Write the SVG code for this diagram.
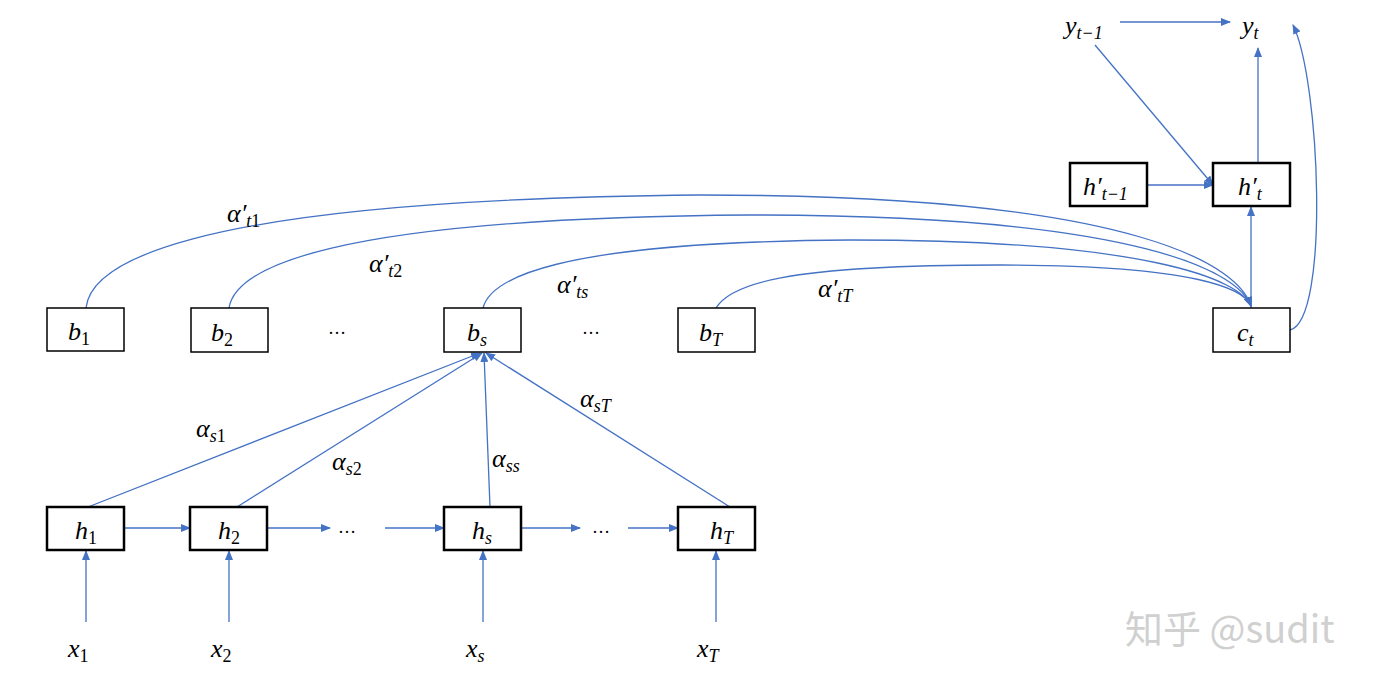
<svg xmlns="http://www.w3.org/2000/svg" width="1393" height="685" viewBox="0 0 1393 685">
<style>
.n{fill:#fff;stroke:#000;stroke-width:1.5}
.k{fill:#fff;stroke:#000;stroke-width:2.5}
.c{fill:none;stroke:#4472c4;stroke-width:1.3}
text{font-family:"Liberation Serif","DejaVu Serif",serif;font-style:italic;font-size:26px;fill:#000}
.s{font-size:18px;font-style:normal}
.si{font-size:18px}
.d{font-style:normal;font-size:18px}
</style>
<defs><marker id="a" markerWidth="10" markerHeight="8" refX="9" refY="4" orient="auto" markerUnits="userSpaceOnUse"><path d="M0,0L10,4L0,8z" fill="#4472c4"/></marker></defs>
<rect width="1393" height="685" fill="#fff"/>
<g id="connectors">
<path class="c" marker-end="url(#a)" d="M86,308C90,270 160,200 700,195C1150,195 1240,270 1251,306"/>
<path class="c" marker-end="url(#a)" d="M229,308C235,270 320,218 750,215C1150,215 1240,275 1251,306"/>
<path class="c" marker-end="url(#a)" d="M483,308C490,280 550,242 850,240C1150,240 1240,280 1251,306"/>
<path class="c" marker-end="url(#a)" d="M716,308C730,285 780,265 1000,265C1200,265 1245,290 1251,306"/>
<path class="c" marker-end="url(#a)" d="M1290,330C1330,320 1320,80 1293,25"/>
<path class="c" marker-end="url(#a)" d="M1120,22L1230,22"/>
<path class="c" marker-end="url(#a)" d="M1258,163L1258,48"/>
<path class="c" marker-end="url(#a)" d="M1095,45L1213,185"/>
<path class="c" marker-end="url(#a)" d="M1147,185L1213,185"/>
<path class="c" marker-end="url(#a)" d="M1251,308L1251,207"/>
<path class="c" marker-end="url(#a)" d="M124,528L190,528"/>
<path class="c" marker-end="url(#a)" d="M267,528L330,528"/>
<path class="c" marker-end="url(#a)" d="M385,528L444,528"/>
<path class="c" marker-end="url(#a)" d="M521,528L580,528"/>
<path class="c" marker-end="url(#a)" d="M628,528L678,528"/>
<path class="c" marker-end="url(#a)" d="M86,622L86,551"/>
<path class="c" marker-end="url(#a)" d="M229,622L229,551"/>
<path class="c" marker-end="url(#a)" d="M483,622L483,551"/>
<path class="c" marker-end="url(#a)" d="M716,622L716,551"/>
<path class="c" marker-end="url(#a)" d="M88,507L480,353"/>
<path class="c" marker-end="url(#a)" d="M237,507L482,353"/>
<path class="c" marker-end="url(#a)" d="M490,507L484,353"/>
<path class="c" marker-end="url(#a)" d="M730,507L486,353"/>
</g>
<g id="b1"><rect class="n" x="47" y="308" width="77" height="43"/><text x="68" y="340">b<tspan class="s" dy="5">1</tspan></text></g>
<g id="b2"><rect class="n" x="191" y="308" width="77" height="44"/><text x="211" y="341">b<tspan class="s" dy="5">2</tspan></text></g>
<g id="bs"><rect class="n" x="444" y="308" width="77" height="44"/><text x="467" y="341">b<tspan class="si" dy="5">s</tspan></text></g>
<g id="bT"><rect class="n" x="678" y="308" width="77" height="44"/><text x="699" y="341">b<tspan class="si" dy="5">T</tspan></text></g>
<g id="ct"><rect class="n" x="1213" y="308" width="77" height="44"/><text x="1237" y="341">c<tspan class="si" dy="5">t</tspan></text></g>
<g id="h1"><rect class="k" x="47" y="507" width="77" height="43"/><text x="75" y="539">h<tspan class="s" dy="5">1</tspan></text></g>
<g id="h2"><rect class="k" x="190" y="507" width="77" height="43"/><text x="218" y="539">h<tspan class="s" dy="5">2</tspan></text></g>
<g id="hs"><rect class="k" x="444" y="507" width="77" height="43"/><text x="472" y="539">h<tspan class="si" dy="5">s</tspan></text></g>
<g id="hT"><rect class="k" x="678" y="507" width="77" height="43"/><text x="710" y="539">h<tspan class="si" dy="5">T</tspan></text></g>
<g id="hpt1"><rect class="k" x="1070" y="163" width="77" height="43"/><text x="1083" y="195">h′<tspan class="si" dy="5">t−1</tspan></text></g>
<g id="hpt"><rect class="k" x="1213" y="163" width="77" height="43"/><text x="1238" y="195">h′<tspan class="si" dy="5">t</tspan></text></g>
<g id="labels">
<text x="1065" y="34">y<tspan class="si" dy="5">t−1</tspan></text>
<text x="1242" y="34">y<tspan class="si" dy="5">t</tspan></text>
<text x="68" y="657">x<tspan class="s" dy="5">1</tspan></text>
<text x="211" y="657">x<tspan class="s" dy="5">2</tspan></text>
<text x="466" y="657">x<tspan class="si" dy="5">s</tspan></text>
<text x="697" y="657">x<tspan class="si" dy="5">T</tspan></text>
<text x="227" y="222">α′<tspan class="si" dy="5">t</tspan><tspan class="s">1</tspan></text>
<text x="369" y="272">α′<tspan class="si" dy="5">t</tspan><tspan class="s">2</tspan></text>
<text x="557" y="293">α′<tspan class="si" dy="5">ts</tspan></text>
<text x="818" y="297">α′<tspan class="si" dy="5">tT</tspan></text>
<text x="196" y="437">α<tspan class="si" dy="5">s</tspan><tspan class="s">1</tspan></text>
<text x="332" y="470">α<tspan class="si" dy="5">s</tspan><tspan class="s">2</tspan></text>
<text x="492" y="467">α<tspan class="si" dy="5">ss</tspan></text>
<text x="580" y="407">α<tspan class="si" dy="5">sT</tspan></text>
<text class="d" x="328" y="334">…</text>
<text class="d" x="582" y="334">…</text>
<text class="d" x="338" y="533">…</text>
<text class="d" x="592" y="533">…</text>
<text x="1125" y="643" style="font-family:'Noto Sans CJK SC','Noto Sans',sans-serif;font-style:normal;font-size:38px;fill:#d0d0d0">知乎 @sudit</text>
</g>
</svg>
